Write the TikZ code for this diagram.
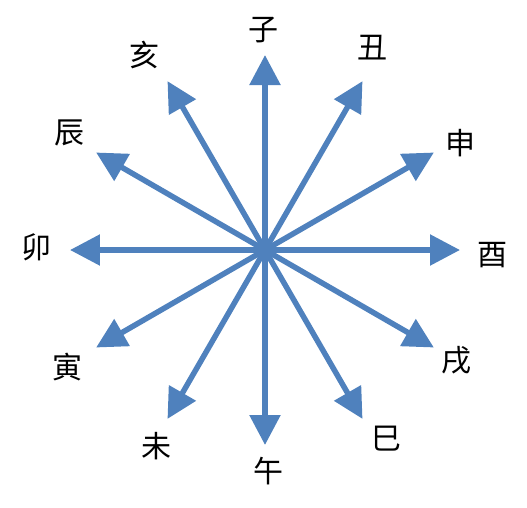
\documentclass[tikz,border=0pt]{standalone}
\usepackage{fontspec}
\newfontfamily\cjk{Noto Sans CJK SC}
\usepackage{tikz}
\usetikzlibrary{arrows.meta,calc}
\definecolor{branchblue}{RGB}{79,129,189}

\begin{document}
\begin{tikzpicture}[x=1pt,y=1pt,
	ray/.style={branchblue,line width=5.5pt,-{Triangle[length=30pt,width=30pt]}},
	branch/.style={font=\cjk\fontsize{30}{32}\selectfont,inner sep=0pt}]
		\useasboundingbox (-265,-257) rectangle (262,250);
		\coordinate (o) at (0,0);
		% twelve rays, every 30 degrees
		\foreach \a/\n in {90/zi,60/chou,30/shen,0/you,-30/xu,-60/si,-90/wu,-120/wei,-150/yin,180/mao,150/chen,120/hai}
		\coordinate (t-\n) at (\a:195);
		\foreach \n in {zi,chou,shen,you,xu,si,wu,wei,yin,mao,chen,hai}
		\draw[ray] (o) -- (t-\n);
		% labels
		\node[branch] (l-zi) at (-2,220) {子};
		\node[branch] (l-chou) at (107,202) {丑};
		\node[branch] (l-shen) at (195,107) {申};
		\node[branch] (l-you) at (227,-5) {酉};
		\node[branch] (l-xu) at (191,-110) {戌};
		\node[branch] (l-si) at (121,-189) {巳};
		\node[branch] (l-wu) at (3,-221) {午};
		\node[branch] (l-wei) at (-108,-196) {未};
		\node[branch] (l-yin) at (-197,-117) {寅};
		\node[branch] (l-mao) at (-228,3) {卯};
		\node[branch] (l-chen) at (-195,117) {辰};
		\node[branch] (l-hai) at (-120,195) {亥};
		\end{tikzpicture}
\end{document}
